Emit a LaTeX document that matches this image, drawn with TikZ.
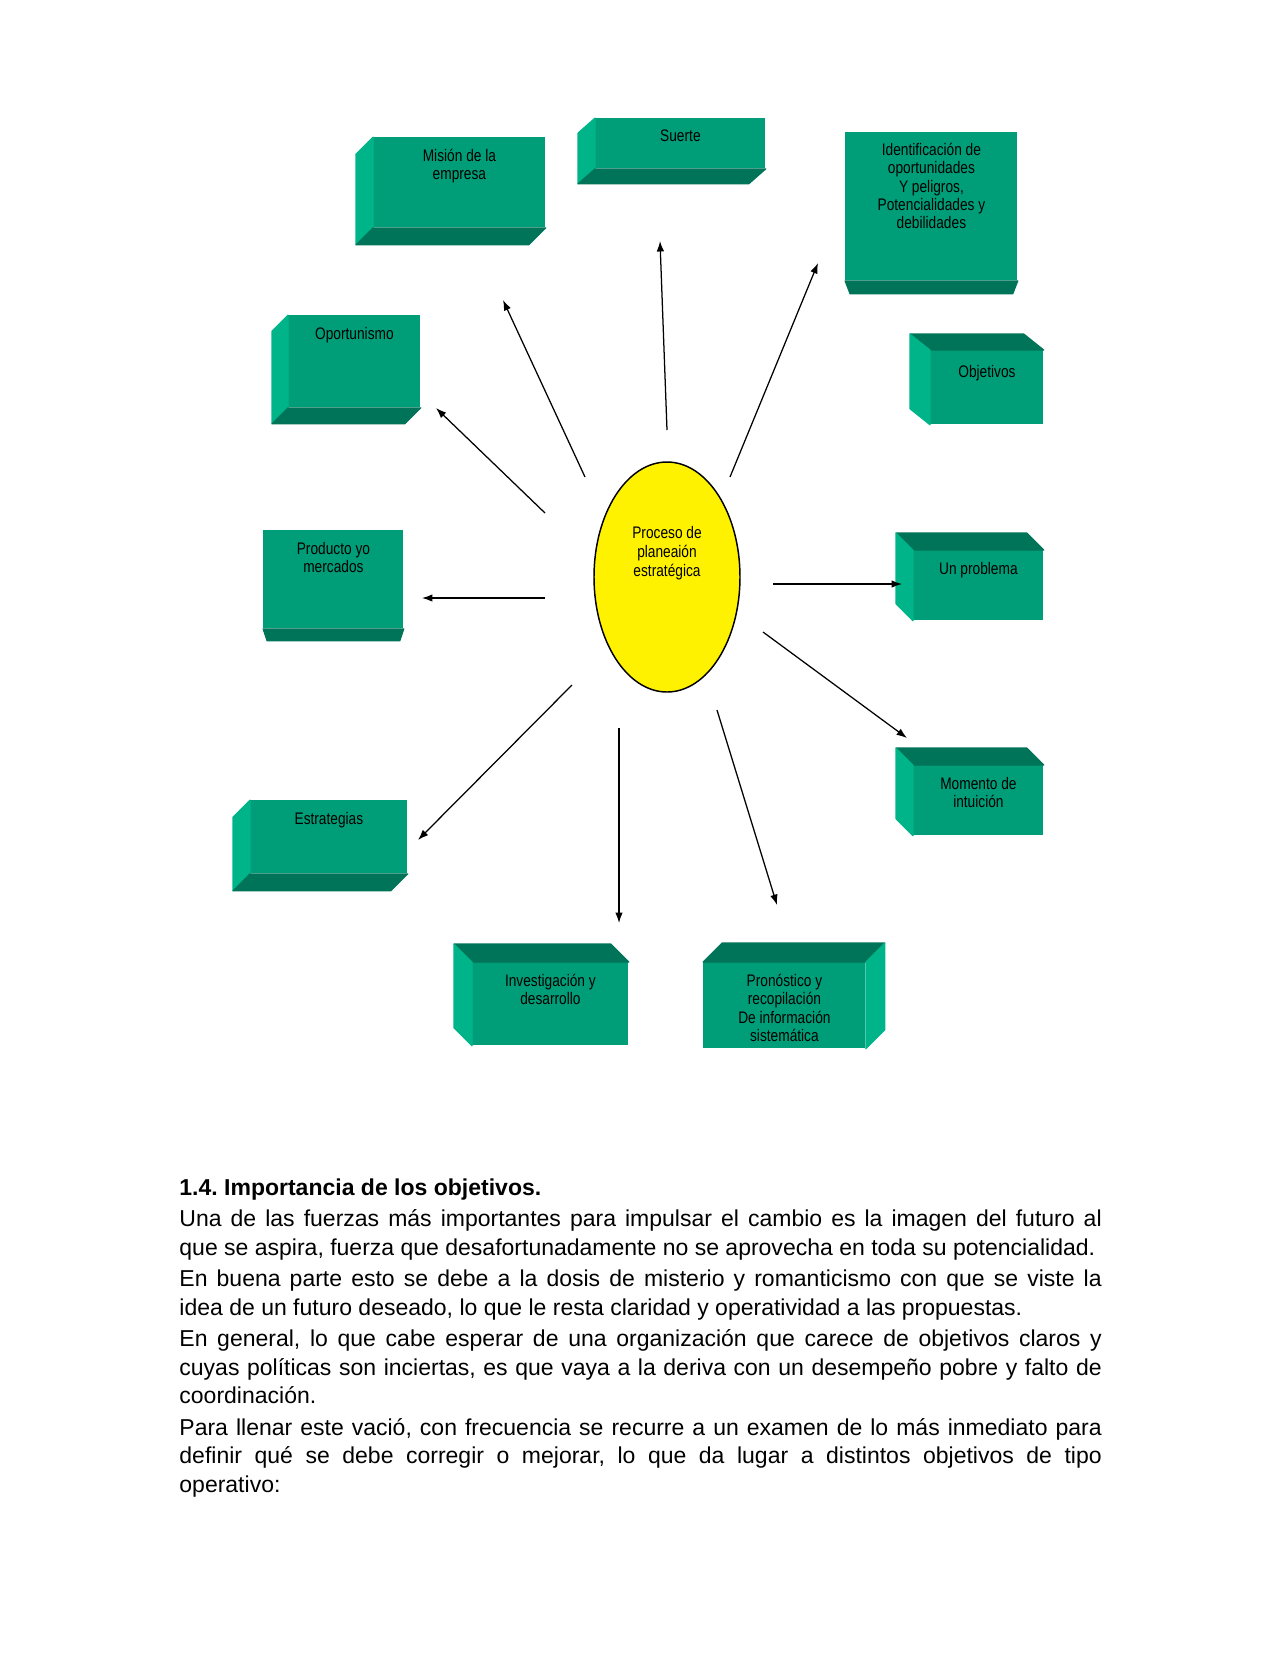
\documentclass[tikz,border=0pt]{standalone}
\usepackage{fontspec}
\setmainfont{Liberation Sans}
\newfontfamily\boxfont[FakeStretch=0.82]{Liberation Sans}
\usetikzlibrary{shapes,arrows.meta,calc}
\definecolor{boxfront}{RGB}{0,158,120}
\definecolor{boxlight}{RGB}{0,180,138}
\definecolor{boxdark}{RGB}{0,116,88}
\def\px{0.478125pt}
\tikzstyle{greenbox} = [rectangle, fill=boxfront, inner sep=0pt, anchor=north west]
\tikzstyle{boxlbl} = [anchor=north, yshift=-5.6pt, inner sep=0pt, align=center, text=black, font=\boxfont\fontsize{8}{8.8}\selectfont]
\tikzstyle{lightface} = [fill=boxlight, draw=boxlight, line width=0.5pt, line join=round]
\tikzstyle{darkface} = [fill=boxdark, draw=boxdark, line width=0.5pt, line join=round]
\tikzstyle{proceso} = [ellipse, draw=black, line width=0.7pt, fill=yellow, minimum width=146*\px, minimum height=230*\px, inner sep=0pt]
\tikzstyle{tedge} = [draw, line width=0.6pt, -{Latex[length=5pt,width=3.6pt]}]
\tikzstyle{bodytext} = [anchor=north west, inner sep=0pt, text width=441pt, align=justify, font=\fontsize{11}{13.6}\selectfont]

\begin{document}
\begin{tikzpicture}[x=\px, y=-\px]
\path[use as bounding box, fill=white] (0,0) rectangle (1280,1656);

% centre ===================================
\node[proceso, label={[boxlbl, yshift=-25.2pt, font=\boxfont\fontsize{8}{9.2}\selectfont]north:{Proceso de\\planeaión\\estratégica}}] (proc) at (667,577) {};

% boxes ====================================
\node[greenbox, minimum width=172*\px, minimum height=90*\px, label={[boxlbl]north:{Misión de la\\empresa}}] (mision) at (373,137) {};
\node[greenbox, minimum width=170*\px, minimum height=50*\px, label={[boxlbl]north:{Suerte}}] (suerte) at (595,118) {};
\node[greenbox, minimum width=172*\px, minimum height=148*\px, label={[boxlbl, yshift=0.6pt]north:{Identificación de\\oportunidades\\Y peligros,\\Potencialidades y\\debilidades}}] (ident) at (845,132) {};
\node[greenbox, minimum width=113*\px, minimum height=74*\px, label={[boxlbl, yshift=-1.5pt]north:{Objetivos}}] (objetivos) at (930,350) {};
\node[greenbox, minimum width=132*\px, minimum height=92*\px, label={[boxlbl]north:{Oportunismo}}] (oport) at (288,315) {};
\node[greenbox, minimum width=140*\px, minimum height=98*\px, label={[boxlbl]north:{Producto yo\\mercados}}] (producto) at (263,530) {};
\node[greenbox, minimum width=130*\px, minimum height=70*\px, label={[boxlbl]north:{Un problema}}] (problema) at (913,550) {};
\node[greenbox, minimum width=130*\px, minimum height=70*\px, label={[boxlbl]north:{Momento de\\intuición}}] (momento) at (913,765) {};
\node[greenbox, minimum width=157*\px, minimum height=73*\px, label={[boxlbl]north:{Estrategias}}] (estrateg) at (250,800) {};
\node[greenbox, minimum width=156*\px, minimum height=83*\px, label={[boxlbl]north:{Investigación y\\desarrollo}}] (investig) at (472,962) {};
\node[greenbox, minimum width=162*\px, minimum height=86*\px, label={[boxlbl]north:{Pronóstico y\\recopilación\\De información\\sistemática}}] (pronost) at (703,962) {};

% depth to the lower left
\path[lightface] (mision.north west) -- ++(-17,17) -- ($(mision.south west)+(-17,17)$) -- (mision.south west) -- cycle;
\path[darkface] (mision.south west) -- ++(-17,17) -- ($(mision.south east)+(-17,17)$) -- (mision.south east) -- cycle;
\path[lightface] (suerte.north west) -- ++(-17,15) -- ($(suerte.south west)+(-17,15)$) -- (suerte.south west) -- cycle;
\path[darkface] (suerte.south west) -- ++(-17,15) -- ($(suerte.south east)+(-17,15)$) -- (suerte.south east) -- cycle;
\path[lightface] (oport.north west) -- ++(-16,16) -- ($(oport.south west)+(-16,16)$) -- (oport.south west) -- cycle;
\path[darkface] (oport.south west) -- ++(-16,16) -- ($(oport.south east)+(-16,16)$) -- (oport.south east) -- cycle;
\path[lightface] (estrateg.north west) -- ++(-17,17) -- ($(estrateg.south west)+(-17,17)$) -- (estrateg.south west) -- cycle;
\path[darkface] (estrateg.south west) -- ++(-17,17) -- ($(estrateg.south east)+(-17,17)$) -- (estrateg.south east) -- cycle;

% depth to the upper left
\path[darkface] (objetivos.north west) -- ++(-20,-16) -- ($(objetivos.north east)+(-20,-16)$) -- (objetivos.north east) -- cycle;
\path[lightface] (objetivos.north west) -- ++(-20,-16) -- ($(objetivos.south west)+(-20,-16)$) -- (objetivos.south west) -- cycle;
\path[darkface] (problema.north west) -- ++(-17,-17) -- ($(problema.north east)+(-17,-17)$) -- (problema.north east) -- cycle;
\path[lightface] (problema.north west) -- ++(-17,-17) -- ($(problema.south west)+(-17,-17)$) -- (problema.south west) -- cycle;
\path[darkface] (momento.north west) -- ++(-17,-17) -- ($(momento.north east)+(-17,-17)$) -- (momento.north east) -- cycle;
\path[lightface] (momento.north west) -- ++(-17,-17) -- ($(momento.south west)+(-17,-17)$) -- (momento.south west) -- cycle;
\path[darkface] (investig.north west) -- ++(-18,-18) -- ($(investig.north east)+(-18,-18)$) -- (investig.north east) -- cycle;
\path[lightface] (investig.north west) -- ++(-18,-18) -- ($(investig.south west)+(-18,-18)$) -- (investig.south west) -- cycle;

% depth to the upper right
\path[darkface] (pronost.north west) -- ++(19,-19) -- ($(pronost.north east)+(19,-19)$) -- (pronost.north east) -- cycle;
\path[lightface] (pronost.north east) -- ++(19,-19) -- ($(pronost.south east)+(19,-19)$) -- (pronost.south east) -- cycle;

% flat bottoms
\path[darkface] (ident.south west) -- (ident.south east) -- ++(-5,13) -- ($(ident.south west)+(5,13)$) -- cycle;
\path[darkface] (producto.south west) -- (producto.south east) -- ++(-4,12) -- ($(producto.south west)+(4,12)$) -- cycle;

% arrow ends
\coordinate (misionA) at (585,477);   \coordinate (misionB) at (503,300);
\coordinate (suerteA) at (667,430);   \coordinate (suerteB) at (660,241);
\coordinate (identA) at (730,477);    \coordinate (identB) at (818,263);
\coordinate (oportA) at (545,513);    \coordinate (oportB) at (436,408);
\coordinate (productoA) at (545,598); \coordinate (productoB) at (422,598);
\coordinate (problemaA) at (773,584); \coordinate (problemaB) at (902,584);
\coordinate (momentoA) at (763,632);  \coordinate (momentoB) at (907,738);
\coordinate (estrategA) at (572,685); \coordinate (estrategB) at (418,840);
\coordinate (investigA) at (619,728); \coordinate (investigB) at (619,923);
\coordinate (pronostA) at (717,710);  \coordinate (pronostB) at (777,905);

%edges
\path[tedge] (misionA) -- (misionB);
\path[tedge] (suerteA) -- (suerteB);
\path[tedge] (identA) -- (identB);
\path[tedge] (oportA) -- (oportB);
\path[tedge] (productoA) -- (productoB);
\path[tedge] (problemaA) -- (problemaB);
\path[tedge] (momentoA) -- (momentoB);
\path[tedge] (estrategA) -- (estrategB);
\path[tedge] (investigA) -- (investigB);
\path[tedge] (pronostA) -- (pronostB);

% text below ===============================
\node[bodytext] (texto) at (179,1178) {\frenchspacing\setlength{\parindent}{0pt}\setlength{\parskip}{1.5pt}%
\textbf{1.4. Importancia de los objetivos.}\par
Una de las fuerzas más importantes para impulsar el cambio es la imagen del futuro al\linebreak
que se aspira, fuerza que desafortunadamente no se aprovecha en toda su potencialidad.\par
En buena parte esto se debe a la dosis de misterio y romanticismo con que se viste la\linebreak
idea de un futuro deseado, lo que le resta claridad y operatividad a las propuestas.\par
En general, lo que cabe esperar de una organización que carece de objetivos claros y\linebreak
cuyas políticas son inciertas, es que vaya a la deriva con un desempeño pobre y falto de\linebreak
coordinación.\par
Para llenar este vació, con frecuencia se recurre a un examen de lo más inmediato para\linebreak
definir qué se debe corregir o mejorar, lo que da lugar a distintos objetivos de tipo\linebreak
operativo:\par};

\end{tikzpicture}
\end{document}
